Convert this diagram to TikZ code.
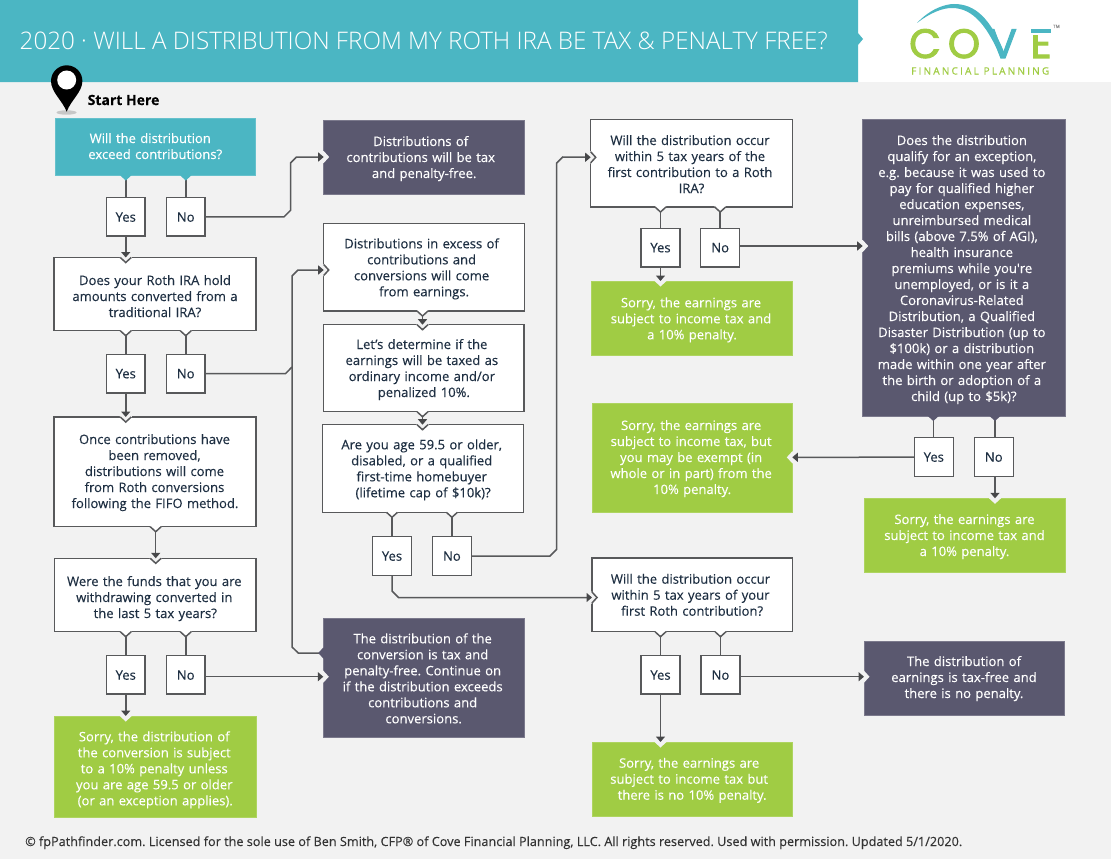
\documentclass[tikz,border=0pt]{standalone}
\usepackage{fontspec}
\setmainfont[FakeBold=0.25]{Open Sans}
\newfontfamily\plainf[FakeBold=0.25]{Open Sans}
\newfontfamily\lightf{Open Sans Light}
\newfontfamily\logof[FakeBold=2.5]{Poppins}
\newfontfamily\logosub[LetterSpace=22,FakeBold=0.6]{Open Sans}
\usetikzlibrary{arrows.meta,calc}
\definecolor{bgc}{HTML}{F2F2F2}
\definecolor{teal}{HTML}{4BB6C3}
\definecolor{leaf}{HTML}{A0CC44}
\definecolor{slate}{HTML}{5A586F}
\definecolor{lncol}{HTML}{58595B}
\definecolor{ink}{HTML}{1E2F42}
\newcommand{\tsh}[1]{\centering\rightskip=\dimexpr #1pt*2\relax plus 1fil\relax}
\tikzset{
  flow/.style={inner sep=0pt,outer sep=0pt,align=center,font=\fontsize{13.05}{16}\selectfont\frenchspacing},
  wbox/.style={flow,fill=white,draw=lncol,line width=1.5pt,text=ink},
  tealbox/.style={flow,fill=teal,draw=teal!85!white,line width=.7pt,text=white},
  leafbox/.style={flow,fill=leaf,draw=leaf!85!white,line width=.7pt,text=white},
  slatebox/.style={flow,fill=slate,draw=slate!80!white,line width=.7pt,text=white},
  logoletter/.style={anchor=base,inner sep=0pt,text depth=0pt,font=\fontsize{41}{41}\selectfont\logof},
  conn/.style={draw=lncol,line width=1.5pt,line join=miter},
  arr/.style={conn,-{Triangle[length=5.5pt,width=9pt,color=lncol!80!black]}},
}
\newcommand{\flowbox}[8][wbox]{%
  \pgfmathsetmacro\myw{#5-#3}\pgfmathsetmacro\myh{#6-#4}%
  \pgfmathsetmacro\myt{#7-#4}\pgfmathsetmacro\myd{#6-#7}%
  \node[#1,anchor=north west,minimum width=\myw pt,text width=\myw pt,minimum height=\myh pt,text height=\myt pt,text depth=\myd pt] (#2) at (#3,#4) {#8};}
\newcommand{\notch}[3][0]{\begin{scope}[shift={(#2)},rotate=#1]
  \fill[bgc] (-6,-1) -- (6,-1) -- (6,0) -- (0,5.5) -- (-6,0) -- cycle;
  \draw[#3,line width=1.5pt] (-5.5,0) -- (0,5) -- (5.5,0);
\end{scope}}
\newcommand{\boxtab}[4][0]{\begin{scope}[shift={(#2)},rotate=#1]
  \fill[#3] (-5.5,-1) -- (5.5,-1) -- (5.5,0) -- (0,5) -- (-5.5,0) -- cycle;
  \draw[#4,line width=1.5pt] (-5.5,0) -- (0,5) -- (5.5,0);
\end{scope}}
\begin{document}
\begin{tikzpicture}[x=1pt,y=-1pt]
\useasboundingbox (0,0) rectangle (1111,859);
\fill[bgc] (0,0) rectangle (1111,859);
\fill[white] (858,0) rectangle (1111,82);
\fill[teal] (0,0) -- (858,0) -- (858,33) -- (863,39) -- (858,45) -- (858,82) -- (0,82) -- cycle;
\node[anchor=base west,inner sep=0pt,text=white,font=\fontsize{24.2}{26}\selectfont\lightf] (title) at (19.5,49) {2020 · WILL A DISTRIBUTION FROM MY ROTH IRA BE TAX \& PENALTY FREE?};
% logo
\fill[teal] (917,23) .. controls (930,9) and (945,4) .. (954,4) .. controls (975,4) and (990,18) .. (1004,52) -- (1001,58) .. controls (988,28) and (974,8) .. (952,8) .. controls (942,8) and (930,13) .. (917,23) -- cycle;
\node[logoletter,text=leaf] (logoc) at (925,58) {C};
\node[logoletter,text=leaf] (logoo) at (964,58) {O};
\node[logoletter,text=teal] (logov) at (1003,58) {V};
\node[logoletter,text=leaf] (logoe) at (1041,58) {E};
\fill[white] (1028,26) rectangle (1056,35);
\fill[teal] (1031,29) rectangle (1051,33.5);
\node[anchor=base west,inner sep=0pt,text=black!45,font=\fontsize{4.5}{5}\selectfont] (logotm) at (1053,28) {TM};
\node[anchor=base west,inner sep=0pt,text height=7.5pt,text depth=0pt,text=leaf,font=\fontsize{10}{11}\selectfont\logosub] (logofp) at (911,74.5) {FINANCIAL PLANNING};
% pin
\fill[black!22] (66.5,112.5) ellipse (10 and 2.2);
\fill[black] (66.7,111.7) .. controls (62,100) and (51,92) .. (51,81) arc (180:360:15.7) .. controls (82.4,92) and (71,100) .. (66.7,111.7) -- cycle;
\fill[white] (66.7,80) circle (9.5);
\node[anchor=base west,inner sep=0pt,font=\fontsize{14}{16}\selectfont\bfseries,text=black] (starthere) at (87.5,105) {Start Here};
% boxes column 1
\flowbox[tealbox]{start}{55}{118}{255.5}{175.5}{143}{\tsh{5}Will the distribution\\exceed contributions?}
\flowbox{yesa}{106.5}{197.7}{145}{236}{221.7}{\tsh{.8}Yes}
\flowbox{noa}{166.5}{197.7}{205}{236}{221.7}{\tsh{.8}No}
\flowbox{roth}{54}{257.5}{256}{330.7}{285}{\tsh{0}Does your Roth IRA hold\\amounts converted from a\\traditional IRA?}
\flowbox{yesb}{106.5}{354.3}{145}{393}{378.3}{\tsh{.8}Yes}
\flowbox{nob}{166.5}{354.3}{205}{393}{378.3}{\tsh{.8}No}
\flowbox{fifo}{54}{417}{256}{526.7}{444}{\tsh{.5}Once contributions have\\been removed,\\distributions will come\\from Roth conversions\\following the FIFO method.}
\flowbox{last5}{54.6}{558.3}{256}{631.7}{586}{\tsh{1}Were the funds that you are\\withdrawing converted in\\the last 5 tax years?}
\flowbox{yesc}{106.5}{655.7}{145}{694}{679.7}{\tsh{.8}Yes}
\flowbox{noc}{166.5}{655.7}{205}{694}{679.7}{\tsh{.8}No}
\flowbox[leafbox]{sorrya}{54.5}{716}{256}{817}{741.3}{\tsh{1}Sorry, the distribution of\\the conversion is subject\\to a 10\% penalty unless\\you are age 59.5 or older\\(or an exception applies).}
% column 2
\flowbox[slatebox]{freea}{323.7}{120}{524.7}{194}{146}{\tsh{3.5}Distributions of\\contributions will be tax\\and penalty-free.}
\flowbox{excess}{323.7}{223.3}{524.5}{311}{248.3}{\tsh{2.5}Distributions in excess of\\contributions and\\conversions will come\\from earnings.}
\flowbox{lets}{323.7}{324.7}{524}{411.7}{349}{\tsh{2}Let’s determine if the\\earnings will be taxed as\\ordinary income and/or\\penalized 10\%.}
\flowbox{age}{322.5}{424.7}{523.7}{512.3}{449.3}{\tsh{1.4}Are you age 59.5 or older,\\disabled, or a qualified\\first-time homebuyer\\(lifetime cap of \$10k)?}
\flowbox{yesd}{372.7}{536.7}{411.3}{575.3}{560.7}{\tsh{.8}Yes}
\flowbox{nod}{432.5}{536.7}{471.3}{575.3}{560.7}{\tsh{.8}No}
\flowbox[slatebox]{conv}{323.3}{618}{524}{737.3}{643.3}{\tsh{1}The distribution of the\\conversion is tax and\\penalty-free. Continue on\\if the distribution exceeds\\contributions and\\conversions.}
% column 3
\flowbox{willa}{590.7}{119.3}{792.3}{207}{145}{\tsh{1.5}Will the distribution occur\\within 5 tax years of the\\first contribution to a Roth\\IRA?}
\flowbox{yese}{641}{228.3}{680}{267}{252.3}{\tsh{.8}Yes}
\flowbox{noe}{700.7}{228.3}{739.7}{267}{252.3}{\tsh{.8}No}
\flowbox[leafbox]{sorryb}{591.7}{281}{792.3}{355}{307.3}{\tsh{1}Sorry, the earnings are\\subject to income tax and\\a 10\% penalty.}
\flowbox[leafbox]{exempt}{592}{403}{792.3}{512.3}{430}{\tsh{1}Sorry, the earnings are\\subject to income tax, but\\you may be exempt (in\\whole or in part) from the\\10\% penalty.}
\flowbox{willb}{592}{558}{792.3}{631.7}{583.7}{\tsh{1.7}Will the distribution occur\\within 5 tax years of your\\first Roth contribution?}
\flowbox{yesf}{641}{655.7}{680}{694}{679.7}{\tsh{.8}Yes}
\flowbox{nof}{701}{655.7}{740}{694}{679.7}{\tsh{.8}No}
\flowbox[leafbox]{sorryc}{592}{742}{792.3}{816}{767.7}{\tsh{3}Sorry, the earnings are\\subject to income tax but\\there is no 10\% penalty.}
% column 4
\flowbox[slatebox]{big}{862.7}{119.3}{1065}{416}{145}{\tsh{2}Does the distribution\\qualify for an exception,\\e.g. because it was used to\\pay for qualified higher\\education expenses,\\unreimbursed medical\\bills (above 7.5\% of AGI),\\health insurance\\premiums while you{\plainf '}re\\unemployed, or is it a\\Coronavirus-Related\\Distribution, a Qualified\\Disaster Distribution (up to\\\$100k) or a distribution\\made within one year after\\the birth or adoption of a\\child (up to \$5k)?}
\flowbox{yesg}{914.3}{437.7}{953.3}{476.7}{461.7}{\tsh{.8}Yes}
\flowbox{nog}{974.3}{437.7}{1013.3}{476.7}{461.7}{\tsh{.8}No}
\flowbox[leafbox]{sorryd}{864}{498.3}{1065}{572.3}{524}{\tsh{0}Sorry, the earnings are\\subject to income tax and\\a 10\% penalty.}
\flowbox[slatebox]{freeb}{864}{641}{1064}{715}{666}{\tsh{0}The distribution of\\earnings is tax-free and\\there is no penalty.}
% footer
\node[anchor=base west,inner sep=0pt,text=black!80,font=\fontsize{12.67}{14}\selectfont\frenchspacing] (footer) at (25,846) {© fpPathfinder.com. Licensed for the sole use of Ben Smith, CFP® of Cove Financial Planning, LLC. All rights reserved. Used with permission. Updated 5/1/2020.};
% named ports
\coordinate (fifox) at (155.7,526.7);
\coordinate (exc) at (422.5,311);
\coordinate (excessin) at (323.7,270);
\coordinate (convout) at (323.3,653);
\coordinate (convin) at (323.3,676.7);
\coordinate (busj) at (292,367);
\coordinate (willbin) at (592,597.5);
\coordinate (willain) at (590.7,157.3);
\coordinate (bigin) at (862.7,246);
\coordinate (freebin) at (864,676.7);
\coordinate (exemptin) at (792.3,457.3);
\coordinate (bigy) at (933.3,416);
\coordinate (bign) at (995,416);
% notches
\notch{roth.north -| yesa.south}{lncol}
\notch{fifo.north -| yesb.south}{lncol}
\notch{last5.north -| fifox}{lncol}
\notch{sorrya.north -| yesc.south}{draw=none}
\notch[90]{freea.west}{draw=none}
\notch[90]{excessin}{lncol}
\notch{lets.north -| exc}{lncol}
\notch{age.north -| exc}{lncol}
\notch[90]{convin}{draw=none}
\notch[90]{willain}{lncol}
\notch[90]{willbin}{lncol}
\notch{sorryb.north -| yese.south}{draw=none}
\notch{sorryc.north -| yesf.south}{draw=none}
\notch{sorryd.north -| bign}{draw=none}
\notch[90]{bigin}{draw=none}
\notch[90]{freebin}{draw=none}
\notch[-90]{exemptin}{draw=none}
% connectors
\draw[conn] (start.south -| yesa.north) -- (yesa.north);
\draw[conn] (start.south -| noa.north) -- (noa.north);
\draw[arr] (yesa.south) -- (roth.north -| yesa.south);
\draw[arr] (noa.east) -- ++(79,0) -- ++(6.5,-6.5) -- ++(0,-47.3) -- ++(6,-6) -- (freea.west);
\draw[conn] (roth.south -| yesb.north) -- (yesb.north);
\draw[conn] (roth.south -| nob.north) -- (nob.north);
\draw[arr] (yesb.south) -- (fifo.north -| yesb.south);
\draw[conn] (nob.east) -- ++(80.5,0) -- (busj);
\draw[arr] (fifox) -- (last5.north -| fifox);
\draw[conn] (last5.south -| yesc.north) -- (yesc.north);
\draw[conn] (last5.south -| noc.north) -- (noc.north);
\draw[arr] (yesc.south) -- (sorrya.north -| yesc.south);
\draw[arr] (noc.east |- convin) -- (convin);
\draw[arr] (convout) -- ++(-25,0) -- ++(-6.3,-6) -- ++(0,-371) -- ++(6,-6) -- (excessin);
\draw[arr] (exc) -- (lets.north -| exc);
\draw[arr] (lets.south -| exc) -- (age.north -| exc);
\draw[conn] (age.south -| yesd.north) -- (yesd.north);
\draw[conn] (age.south -| nod.north) -- (nod.north);
\draw[arr] (yesd.south) -- ++(0,15.7) -- ++(6.5,6.5) -- (willbin);
\draw[arr] (nod.east) -- ++(78.7,0) -- ++(6.7,-6.7) -- ++(0,-386.3) -- ++(6,-6) -- (willain);
\draw[conn] (willa.south -| yese.north) -- (yese.north);
\draw[conn] (willa.south -| noe.north) -- (noe.north);
\draw[arr] (yese.south) -- (sorryb.north -| yese.south);
\draw[arr] (noe.east |- bigin) -- (bigin);
\draw[conn] (bigy) -- (bigy |- yesg.north);
\draw[conn] (bign) -- (bign |- nog.north);
\draw[arr] (yesg.west) -- (exemptin);
\draw[arr] (bign |- nog.south) -- (sorryd.north -| bign);
\draw[conn] (willb.south -| yesf.north) -- (yesf.north);
\draw[conn] (willb.south -| nof.north) -- (nof.north);
\draw[arr] (yesf.south) -- (sorryc.north -| yesf.south);
\draw[arr] (nof.east |- freebin) -- (freebin);
% exit tabs
\boxtab{start.south -| yesa.north}{teal}{draw=none}
\boxtab{start.south -| noa.north}{teal}{draw=none}
\boxtab{roth.south -| yesb.north}{white}{lncol}
\boxtab{roth.south -| nob.north}{white}{lncol}
\boxtab{fifox}{white}{lncol}
\boxtab{last5.south -| yesc.north}{white}{lncol}
\boxtab{last5.south -| noc.north}{white}{lncol}
\boxtab{exc}{white}{lncol}
\boxtab{lets.south -| exc}{white}{lncol}
\boxtab{age.south -| yesd.north}{white}{lncol}
\boxtab{age.south -| nod.north}{white}{lncol}
\boxtab[-90]{convout}{slate}{draw=none}
\boxtab{willa.south -| yese.north}{white}{lncol}
\boxtab{willa.south -| noe.north}{white}{lncol}
\boxtab{willb.south -| yesf.north}{white}{lncol}
\boxtab{willb.south -| nof.north}{white}{lncol}
\boxtab{bigy}{slate}{draw=none}
\boxtab{bign}{slate}{draw=none}
\end{tikzpicture}
\end{document}
